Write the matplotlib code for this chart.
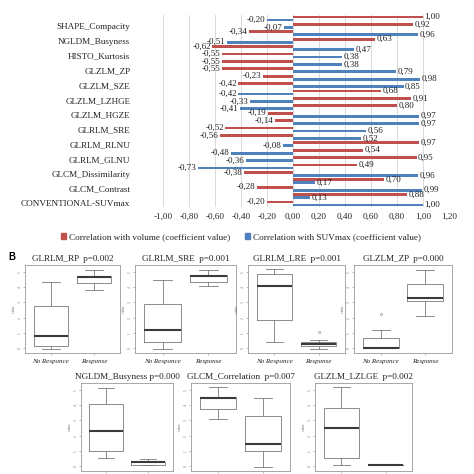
import numpy as np
import matplotlib
matplotlib.use("Agg")
import matplotlib.pyplot as plt
from matplotlib.patches import Patch

plt.rcParams['font.family'] = ['Liberation Serif', 'DejaVu Serif']

# ---------------- Panel A data (top to bottom) ----------------
feature_labels = ["SHAPE_Compacity", "NGLDM_Busyness", "HISTO_Kurtosis", "GLZLM_ZP",
                  "GLZLM_SZE", "GLZLM_LZHGE", "GLZLM_HGZE", "GLRLM_SRE", "GLRLM_RLNU",
                  "GLRLM_GLNU", "GLCM_Dissimilarity", "GLCM_Contrast", "CONVENTIONAL-SUVmax"]
vol_vals = [1.00, 0.92, -0.34, 0.63, -0.62, -0.55, -0.55, -0.55, -0.23, -0.42, 0.68, 0.91, 0.80,
            -0.19, -0.14, -0.52, -0.56, 0.97, 0.54, 0.95, 0.49, -0.38, 0.70, -0.28, 0.88, -0.20]
suv_vals = [-0.20, -0.07, 0.96, -0.51, 0.47, 0.38, 0.38, 0.79, 0.98, 0.85, -0.42, -0.33, -0.41,
            0.97, 0.97, 0.56, 0.52, -0.08, -0.48, -0.36, -0.73, 0.96, 0.17, 0.99, 0.13, 1.00]
x_ticks = [-1.0, -0.8, -0.6, -0.4, -0.2, 0.0, 0.2, 0.4, 0.6, 0.8, 1.0, 1.2]
legend_labels = ["Correlation with volume (coefficient value)",
                 "Correlation with SUVmax (coefficient value)"]

# ---------------- Panel B data ----------------
box_titles = ["GLRLM_RP  p=0.002", "GLRLM_SRE  p=0.001", "GLRLM_LRE  p=0.001", "GLZLM_ZP  p=0.000",
              "NGLDM_Busyness p=0.000", "GLCM_Correlation  p=0.007", "GLZLM_LZLGE  p=0.002"]
group_labels = ["No Responce", "Response"]
# per panel: [No Responce, Response] -> (whislo, q1, med, q3, whishi)
box_whislo = [[0.045, 0.716], [0.045, 0.758], [0.128, 0.045], [0.053, 0.424],
              [0.151, 0.065], [0.591, 0.049], [0.068, 0.066]]
box_q1 = [[0.080, 0.795], [0.125, 0.811], [0.372, 0.083], [0.053, 0.594],
          [0.232, 0.065], [0.705, 0.227], [0.151, 0.066]]
box_med = [[0.193, 0.864], [0.261, 0.872], [0.758, 0.099], [0.060, 0.629],
           [0.455, 0.099], [0.833, 0.307], [0.485, 0.068]]
box_q3 = [[0.534, 0.875], [0.557, 0.883], [0.894, 0.122], [0.167, 0.784],
          [0.758, 0.106], [0.844, 0.625], [0.712, 0.072]]
box_whishi = [[0.807, 0.943], [0.830, 0.943], [0.951, 0.148], [0.261, 0.943],
              [0.947, 0.133], [0.951, 0.826], [0.958, 0.072]]
box_fliers = [[[], []], [[], []], [[], [0.242]], [[0.443], []],
              [[], []], [[], []], [[], []]]
box_yticks = [0.053, 0.227, 0.40, 0.574, 0.748, 0.922]
box_ytick_labels = ["0", "1", "2", "3", "4", "5"]

RED = "#C0504D"
BLUE = "#4F81BD"

W = H = 474
fig = plt.figure(figsize=(W / 100, H / 100), dpi=100)


def px_axes(l, r, t, b):
    return fig.add_axes([l / W, 1 - b / H, (r - l) / W, (b - t) / H])


def fmt(v):
    return f"{v:.2f}".replace(".", ",")


# ---------------- Panel A ----------------
ax = px_axes(163, 449, 14.8, 207.2)
n = len(vol_vals)
ypos = np.arange(n)[::-1]
ax.barh(ypos + 0.2, vol_vals, height=0.38, color=RED, zorder=2)
ax.barh(ypos - 0.2, suv_vals, height=0.38, color=BLUE, zorder=2)
for y, v in zip(ypos + 0.2, vol_vals):
    ax.text(v + (0.012 if v >= 0 else -0.012), y, fmt(v), ha='left' if v >= 0 else 'right',
            va='center', fontsize=6.5, color='#222222', zorder=3)
for y, v in zip(ypos - 0.2, suv_vals):
    ax.text(v + (0.012 if v >= 0 else -0.012), y, fmt(v), ha='left' if v >= 0 else 'right',
            va='center', fontsize=6.5, color='#222222', zorder=3)
ax.set_xlim(-1.0, 1.2)
ax.set_ylim(-0.5, n - 0.5)
ax.set_xticks(x_ticks)
ax.set_xticklabels([fmt(t) for t in x_ticks], fontsize=6.6, color='#222222')
ax.set_yticks(ypos[1::2])
ax.set_yticklabels(feature_labels, fontsize=6.6, color='#222222')
ax.tick_params(axis='x', length=0, pad=4)
ax.tick_params(axis='y', length=0, pad=23.5)
ax.grid(axis='x', color='#d9d9d9', lw=0.7, zorder=0)
ax.axvline(0, color='#bfbfbf', lw=0.8, zorder=1)
for s in ax.spines.values():
    s.set_visible(False)

handles = [Patch(color=RED), Patch(color=BLUE)]
fig.legend(handles, legend_labels, loc='center', bbox_to_anchor=(241 / W, 1 - 237 / H), ncol=2,
           frameon=False, fontsize=6.6, handlelength=0.55, handleheight=0.55,
           handletextpad=0.3, columnspacing=1.6, labelcolor='#222222')

fig.text(8 / W, 1 - 257 / H, "B", fontweight='bold', fontsize=7, family='Liberation Sans',
         va='center', ha='left')

# ---------------- Panel B ----------------
frames = [(25, 120, 265, 353), (135, 236, 265, 353), (248, 345, 265, 353), (354, 452, 265, 353),
          (81, 173, 383, 471), (191, 290, 383, 471), (315, 412, 383, 471)]
for i, (l, r, t, b) in enumerate(frames):
    bx = px_axes(l, r, t, b)
    stats = []
    for g in range(2):
        stats.append(dict(whislo=box_whislo[i][g], q1=box_q1[i][g], med=box_med[i][g],
                          q3=box_q3[i][g], whishi=box_whishi[i][g], fliers=box_fliers[i][g],
                          label=group_labels[g]))
    bx.bxp(stats, positions=[1, 2], widths=0.8, showfliers=True,
           boxprops=dict(color='#7a7a7a', lw=0.6),
           whiskerprops=dict(color='#7a7a7a', lw=0.6),
           capprops=dict(color='#7a7a7a', lw=0.6),
           medianprops=dict(color='#3a3a3a', lw=1.5),
           flierprops=dict(marker='o', markersize=1.5, markerfacecolor='none',
                           markeredgecolor='#7a7a7a', markeredgewidth=0.4))
    bx.set_xlim(0.4, 2.6)
    bx.set_ylim(0, 1)
    bx.set_xticks([1, 2])
    if i < 4:
        bx.set_xticklabels(group_labels, fontsize=5, style='italic', color='#222222')
    else:
        # lower row: group labels fall below the picture's edge in the reference
        bx.set_xticklabels([])
    bx.set_yticks(box_yticks)
    bx.set_yticklabels(box_ytick_labels, fontsize=2.5, rotation=90, va='center', color='#666666')
    bx.tick_params(axis='both', length=1.5, width=0.4, color='#888888')
    bx.tick_params(axis='x', pad=2.5)
    bx.tick_params(axis='y', pad=1)
    bx.set_ylabel("value", fontsize=2.5, labelpad=1, color='#666666')
    for s in bx.spines.values():
        s.set_color('#999999')
        s.set_linewidth(0.6)
    bx.set_title(box_titles[i], fontsize=6.6, pad=3, color='#222222')

fig.savefig("out.png", dpi=100, facecolor='white')
